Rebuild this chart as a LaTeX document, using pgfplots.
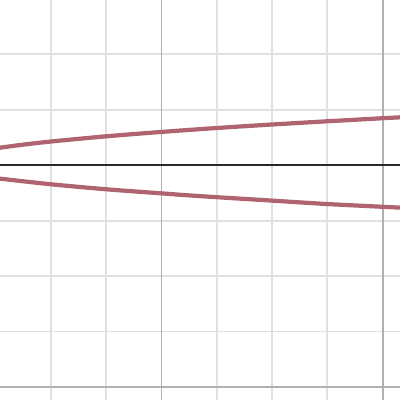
\documentclass[border=0pt]{standalone}
\usepackage{pgfplots}
\pgfplotsset{compat=1.18}
\definecolor{curve}{RGB}{176,100,112}
\definecolor{minorg}{RGB}{224,224,224}
\definecolor{majorg}{RGB}{176,176,176}
\definecolor{axisk}{RGB}{40,40,40}
\begin{document}
\begin{tikzpicture}
\begin{axis}[
	width=10cm, height=10cm,
	scale only axis,
	xmin=1.078, xmax=8.313,
	ymin=-4.234, ymax=2.979,
	axis line style={draw=none},
	xtick={2,3,5,6,7}, ytick={-3,-2,-1,1,2},
	xticklabel=\empty, yticklabel=\empty,
	major tick length=0pt,
	xmajorgrids, ymajorgrids,
	major grid style={minorg, line width=1.3pt},
	clip=true,
]
% major grid lines
\addplot[majorg, line width=1.3pt, forget plot] coordinates {(4,-5) (4,4)};
\addplot[majorg, line width=1.3pt, forget plot] coordinates {(8,-5) (8,4)};
\addplot[majorg, line width=1.3pt, forget plot] coordinates {(0,-4) (9,-4)};
% x-axis
\addplot[axisk, line width=1.4pt, forget plot] coordinates {(0,0) (9,0)};
\addplot[curve, line width=3pt, smooth] coordinates {
	(0.9,0.290) (1.080,0.316) (1.5,0.371) (2,0.427) (3,0.521) (4,0.600)
	(5,0.671) (6,0.734) (7,0.792) (8,0.847) (8.5,0.873)
};
\addplot[curve, line width=3pt, smooth] coordinates {
	(0.9,-0.220) (1.080,-0.243) (2,-0.344) (3.01,-0.435) (4,-0.508)
	(4.7,-0.558) (6.02,-0.640) (6.99,-0.700) (8,-0.750) (8.5,-0.774)
};
\end{axis}
\pgfresetboundingbox
\path (current axis.south west) rectangle (current axis.north east);
\end{tikzpicture}
\end{document}
